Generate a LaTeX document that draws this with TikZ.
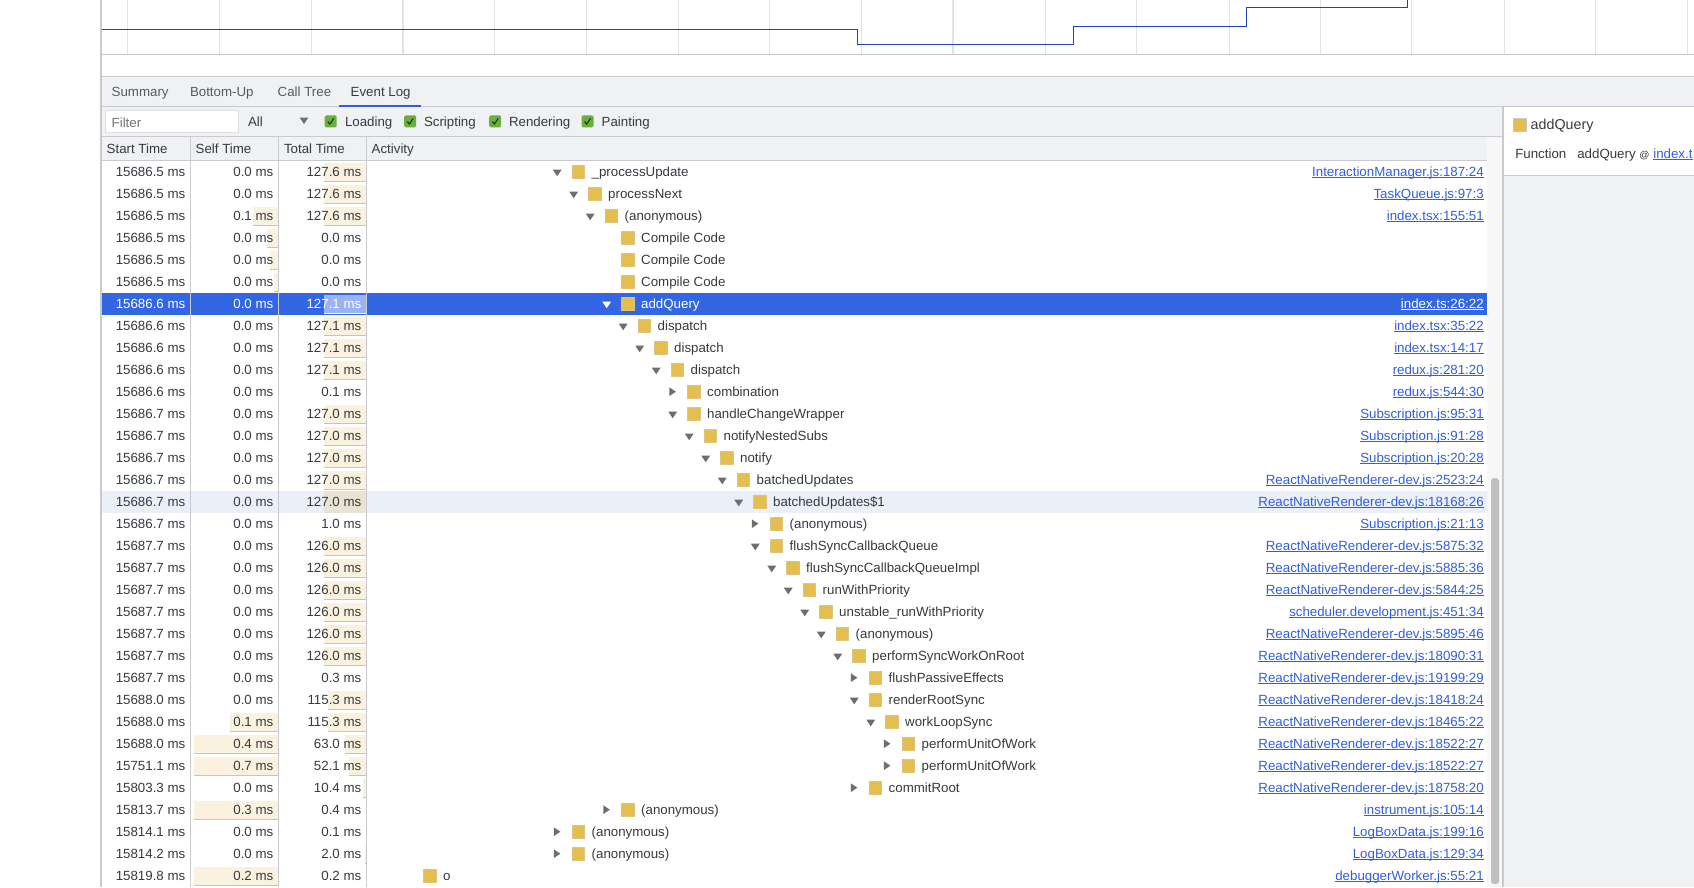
\documentclass[tikz,border=0pt]{standalone}
\usepackage{fontspec}
\setmainfont{Liberation Sans}
\usetikzlibrary{positioning,calc}

\definecolor{panelgray}{HTML}{F0F1F3}
\definecolor{linegray}{HTML}{C8CAD0}
\definecolor{gridgray}{HTML}{E3E3E5}
\definecolor{uitext}{HTML}{363A40}
\definecolor{tabtext}{HTML}{565A60}
\definecolor{arrowgray}{HTML}{6E6E6E}
\definecolor{tracedark}{HTML}{2140C8}
\definecolor{linkblue}{HTML}{2F5FDC}
\definecolor{selblue}{HTML}{3366E3}
\definecolor{selbar}{HTML}{9BB3F2}
\definecolor{hoverblue}{HTML}{EBEFFA}
\definecolor{hoverbar}{HTML}{E8E3D3}
\definecolor{barfill}{HTML}{FAF2DE}
\definecolor{barline}{HTML}{E5C46B}
\definecolor{sqfill}{HTML}{E4BE4E}
\definecolor{sqedge}{HTML}{DCC47E}
\definecolor{chkgreen}{HTML}{6AAE3C}
\definecolor{chkdark}{HTML}{26331C}

\newcommand{\uifont}{\fontsize{13.3}{16}\selectfont}
\newcommand{\rnr}{ReactNativeRenderer-dev.js}
\newcommand{\lnktxt}[1]{\setbox0\hbox{#1}\rlap{\rule[-1.6pt]{\wd0}{0.8pt}}\box0}

\tikzset{
    every node/.style={inner sep=0pt,outer sep=0pt,font=\uifont,text=uitext},
    celltext/.style={anchor=base east},
    uilabel/.style={anchor=base west},
    tablabel/.style={anchor=base west,text=tabtext},
    fnsq/.style={draw=sqedge,fill=sqfill,line width=0.8pt,minimum size=12.6pt},
    chkbox/.style={fill=chkgreen,rounded corners=1.5pt,minimum size=12pt},
    sepline/.style={draw=linegray,line width=1pt}
}

\begin{document}
\begin{tikzpicture}[x=1pt,y=-1pt]
    \useasboundingbox (0,0) rectangle (1694,887);
    \fill[white] (0,0) rectangle (1694,887);

    % timeline
    \foreach \gx in {127,219.6,311.6,494.6,586.6,678,769.7,861.3,1045.3,1136.3,1229.3,1320,1411,1504,1595,1687}
        \draw[gridgray,line width=0.9pt] (\gx,0) -- (\gx,54);
    \foreach \gx in {403,953}
        \draw[gridgray,line width=1.7pt] (\gx,0) -- (\gx,54);
    \draw[tracedark,line width=1pt] (101,29.3) -- (857.3,29.3) -- (857.3,44.3) -- (1073.3,44.3)
        -- (1073.3,26.3) -- (1246.3,26.3) -- (1246.3,7.3) -- (1407.7,7.3) -- (1407.7,0);

    % bars
    \fill[panelgray] (101,76.5) rectangle (1694,106.5);
    \fill[panelgray] (101,106.5) rectangle (1503,136.5);
    \fill[panelgray] (101,137) rectangle (1487,160.5);
    \fill[panelgray] (1503,175) rectangle (1694,887);
    \fill[black!3] (1487,137) rectangle (1502,887);

    % selected and hovered rows
    \fill[selblue] (102,293) rectangle (1487,315);
    \fill[hoverblue] (102,491) rectangle (1487,513);

    % self time bars
    \foreach \i/\barx in {2/253,3/267,4/270,5/274,25/230,26/194,27/194,29/194,32/194} {
        \pgfmathsetmacro{\ry}{171.7+22*\i}
        \fill[barfill] (\barx,\ry-9) rectangle (278,\ry+10);
        \draw[barline,line width=1pt] (\barx,\ry+9.6) -- (278,\ry+9.6);
    }
    % total time bars
    \foreach \i/\barx in {0/324,1/324,2/324,7/324,8/324,9/324,11/324,12/324,13/324,14/324,
        17/324,18/324,19/324,20/324,21/324,22/324,24/328,25/328,26/345,27/349,28/363,31/365} {
        \pgfmathsetmacro{\ry}{171.7+22*\i}
        \fill[barfill] (\barx,\ry-9) rectangle (366,\ry+10);
        \draw[barline,line width=1pt] (\barx,\ry+9.6) -- (366,\ry+9.6);
    }
    \fill[selbar] (324,295) rectangle (366,314);
    \draw[white,line width=1pt] (324,313.3) -- (366,313.3);
    \fill[hoverbar] (324,491) rectangle (366,513);

    % lines
    \draw[sepline] (101,54) -- (1694,54);
    \draw[sepline] (101,76.5) -- (1694,76.5);
    \draw[sepline] (101,106.5) -- (1694,106.5);
    \draw[linegray,line width=1.7pt] (101,136.5) -- (1503,136.5);
    \draw[sepline] (101,160.5) -- (1487,160.5);
    \draw[sepline] (1503,175.3) -- (1694,175.3);
    \draw[linegray,line width=1.5pt] (101,0) -- (101,887);
    \draw[linegray,line width=1.6pt] (1503,106.5) -- (1503,887);
    \foreach \cx in {190.5,278.5,366.5}
        \draw[sepline] (\cx,137) -- (\cx,887);

    % tabs
    \node[tablabel] (tabSummary) at (111.7,96.5) {Summary};
    \node[tablabel] (tabBottom) at (190,96.5) {Bottom-Up};
    \node[tablabel] (tabCall) at (277.7,96.5) {Call Tree};
    \node[uilabel] (tabEvent) at (350.7,96.5) {Event Log};
    \draw[linkblue,line width=2pt] (339.3,105.5) -- (420.7,105.5);

    % filter bar
    \node[draw=black!12,fill=white,minimum width=133pt,minimum height=22pt] (filterbox) at (171.5,121) {};
    \node[uilabel,text=black!55] (filtertext) at (111.7,127) {Filter};
    \node[uilabel] (alltext) at (248,126) {All};
    \fill[arrowgray] (299.7,117.7) -- (308.3,117.7) -- (304,124) -- cycle;
    \foreach \cx/\tx/\lab in {330.7/345/Loading,410.2/424/Scripting,495.2/509/Rendering,587.5/601.7/Painting} {
        \node[chkbox] (chk\lab) at (\cx,121.3) {};
        \draw[chkdark,line width=1.1pt] (\cx-3,121.6) -- (\cx-0.8,124) -- (\cx+3,118.4);
        \node[uilabel] (txt\lab) at (\tx,126) {\lab};
    }

    % table header
    \node[uilabel] (headStart) at (106.7,153) {Start Time};
    \node[uilabel] (headSelf) at (195.7,153) {Self Time};
    \node[uilabel] (headTotal) at (284,153) {Total Time};
    \node[uilabel] (headActivity) at (371.7,153) {Activity};

    % time columns
    \foreach \i/\startv/\selfv/\totalv in {
        0/15686.5/0.0/127.6,1/15686.5/0.0/127.6,2/15686.5/0.1/127.6,3/15686.5/0.0/0.0,
        4/15686.5/0.0/0.0,5/15686.5/0.0/0.0,6/15686.6/0.0/127.1,7/15686.6/0.0/127.1,
        8/15686.6/0.0/127.1,9/15686.6/0.0/127.1,10/15686.6/0.0/0.1,11/15686.7/0.0/127.0,
        12/15686.7/0.0/127.0,13/15686.7/0.0/127.0,14/15686.7/0.0/127.0,15/15686.7/0.0/127.0,
        16/15686.7/0.0/1.0,17/15687.7/0.0/126.0,18/15687.7/0.0/126.0,19/15687.7/0.0/126.0,
        20/15687.7/0.0/126.0,21/15687.7/0.0/126.0,22/15687.7/0.0/126.0,23/15687.7/0.0/0.3,
        24/15688.0/0.0/115.3,25/15688.0/0.1/115.3,26/15688.0/0.4/63.0,27/15751.1/0.7/52.1,
        28/15803.3/0.0/10.4,29/15813.7/0.3/0.4,30/15814.1/0.0/0.1,31/15814.2/0.0/2.0,
        32/15819.8/0.2/0.2} {
        \pgfmathsetmacro{\ry}{176.7+22*\i}
        \ifnum\i=6 \def\fgcol{white}\else\def\fgcol{uitext}\fi
        \node[celltext,text=\fgcol] (start\i) at (185.3,\ry) {\startv\ ms};
        \node[celltext,text=\fgcol] (self\i) at (273.3,\ry) {\selfv\ ms};
        \node[celltext,text=\fgcol] (total\i) at (361.3,\ry) {\totalv\ ms};
    }

    % activity tree
    \foreach \i/\depth/\kind/\fname/\lnkv in {
        0/0/d/\_processUpdate/InteractionManager.js:187:24,
        1/1/d/processNext/TaskQueue.js:97:3,
        2/2/d/(anonymous)/index.tsx:155:51,
        3/3/n/Compile Code/,
        4/3/n/Compile Code/,
        5/3/n/Compile Code/,
        6/3/d/addQuery/index.ts:26:22,
        7/4/d/dispatch/index.tsx:35:22,
        8/5/d/dispatch/index.tsx:14:17,
        9/6/d/dispatch/redux.js:281:20,
        10/7/r/combination/redux.js:544:30,
        11/7/d/handleChangeWrapper/Subscription.js:95:31,
        12/8/d/notifyNestedSubs/Subscription.js:91:28,
        13/9/d/notify/Subscription.js:20:28,
        14/10/d/batchedUpdates/\rnr:2523:24,
        15/11/d/batchedUpdates\$1/\rnr:18168:26,
        16/12/r/(anonymous)/Subscription.js:21:13,
        17/12/d/flushSyncCallbackQueue/\rnr:5875:32,
        18/13/d/flushSyncCallbackQueueImpl/\rnr:5885:36,
        19/14/d/runWithPriority/\rnr:5844:25,
        20/15/d/unstable\_runWithPriority/scheduler.development.js:451:34,
        21/16/d/(anonymous)/\rnr:5895:46,
        22/17/d/performSyncWorkOnRoot/\rnr:18090:31,
        23/18/r/flushPassiveEffects/\rnr:19199:29,
        24/18/d/renderRootSync/\rnr:18418:24,
        25/19/d/workLoopSync/\rnr:18465:22,
        26/20/r/performUnitOfWork/\rnr:18522:27,
        27/20/r/performUnitOfWork/\rnr:18522:27,
        28/18/r/commitRoot/\rnr:18758:20,
        29/3/r/(anonymous)/instrument.js:105:14,
        30/0/r/(anonymous)/LogBoxData.js:199:16,
        31/0/r/(anonymous)/LogBoxData.js:129:34,
        32/-9/n/o/debuggerWorker.js:55:21} {
        \pgfmathsetmacro{\ry}{171.7+22*\i}
        \pgfmathsetmacro{\sqx}{572+16.5*\depth}
        \ifnum\i=6 \def\fgcol{white}\def\tricol{white}\else\def\fgcol{uitext}\def\tricol{arrowgray}\fi
        \ifnum\i=6 \def\lnkcol{white}\else\def\lnkcol{linkblue}\fi
        \if d\kind
            \fill[\tricol] (\sqx-19.2,\ry-2) -- (\sqx-10.4,\ry-2) -- (\sqx-14.8,\ry+4.6) -- cycle;
        \fi
        \if r\kind
            \fill[\tricol] (\sqx-18.2,\ry-4.4) -- (\sqx-11.6,\ry) -- (\sqx-18.2,\ry+4.4) -- cycle;
        \fi
        \node[fnsq] (sq\i) at (\sqx+6.4,\ry) {};
        \node[uilabel,text=\fgcol] (name\i) at (\sqx+19.7,\ry+4.8) {\fname};
        \ifx\lnkv\empty\else
            \node[celltext,text=\lnkcol] (link\i) at (1483.7,\ry+4.8) {\color{\lnkcol}\lnktxt{\lnkv}};
        \fi
    }

    % scrollbar
    \fill[black!25,rounded corners=3pt] (1491,478) rectangle (1499,884);

    % details panel
    \node[fnsq,draw=black!22] (detailsq) at (1519.7,124.7) {};
    \node[uilabel,font=\fontsize{14.3}{17}\selectfont] (detailname) at (1530.7,129.7) {addQuery};
    \node[uilabel] (detailkey) at (1515.3,158) {Function};
    \node[uilabel] (detailval) at (1577.3,158) {addQuery {\fontsize{10}{12}\selectfont @}};
    \node[uilabel,text=linkblue] (detaillink) at (1653.3,158) {\color{linkblue}\lnktxt{index.t}};
\end{tikzpicture}
\end{document}
